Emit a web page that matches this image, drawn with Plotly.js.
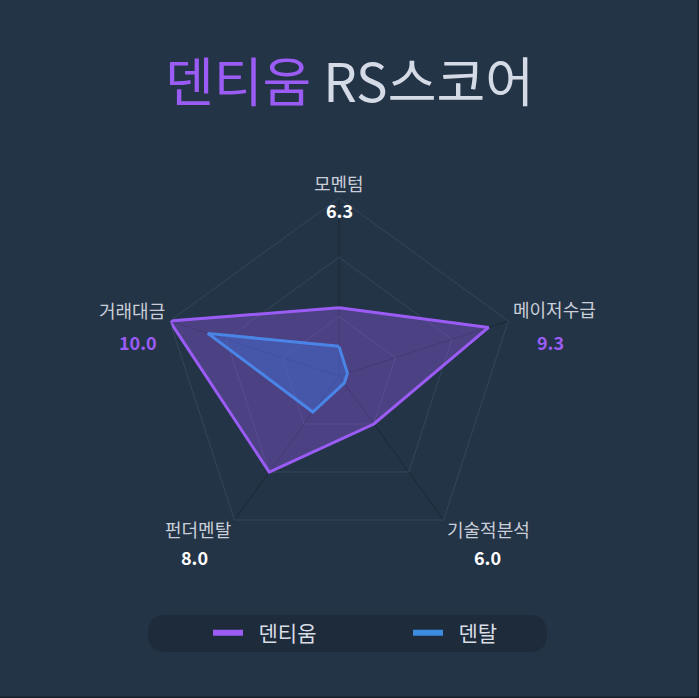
<!DOCTYPE html>
<html>
<head>
<meta charset="utf-8">
<script src="https://cdn.plot.ly/plotly-3.0.1.min.js"></script>
<style>
  html, body { margin: 0; padding: 0; background: #243447; }
  #graphDiv { width: 699px; height: 698px; }
</style>
</head>
<body>
<div id="graphDiv"></div>
<script>
// categories, clockwise from the top
var categories = ["모멘텀", "메이저수급", "기술적분석", "펀더멘탈", "거래대금"];
var dentiumScores = [6.3, 9.3, 6.0, 8.0, 10.0];
var dentalScores = [5.0, 4.3, 4.3, 5.5, 8.65];
var valueLabels = ["6.3", "9.3", "6.0", "8.0", "10.0"];
var seriesNames = ["덴티움", "덴탈"];
var seriesColors = ['#9b5cf6', '#3d8be0'];

var W = 699, H = 698;
var cx = 339, cy = 376, R = 178;
var korFont = "Noto Sans CJK KR, Noto Sans, sans-serif";

function closeLoop(arr) {
    return arr.concat([arr[0]]);
}

var trace1 = {
    type: 'scatterpolar',
    r: closeLoop(dentiumScores),
    theta: closeLoop(categories),
    name: seriesNames[0],
    mode: 'lines',
    fill: 'toself',
    fillcolor: 'rgba(155,92,246,0.34)',
    line: {color: '#9b5cf6', width: 3},
    showlegend: false,
    hoverinfo: 'skip'
};
var trace2 = {
    type: 'scatterpolar',
    r: closeLoop(dentalScores),
    theta: closeLoop(categories),
    name: seriesNames[1],
    mode: 'lines',
    fill: 'toself',
    fillcolor: 'rgba(59,130,246,0.33)',
    line: {color: '#4a84e6', width: 3},
    showlegend: false,
    hoverinfo: 'skip'
};

// legend-only traces so the swatch is a plain thick line
var legendTraces = seriesNames.map(function (nm, k) {
    return {
        type: 'scatterpolar',
        r: [null], theta: [categories[0]],
        name: '\u2002' + nm,
        mode: 'lines',
        line: {color: seriesColors[k], width: 6},
        hoverinfo: 'skip'
    };
});

// label positions around the chart (pixels)
var labelPos = [
    [339, 183, 339, 210],
    [554, 309, 550, 342],
    [488, 529, 487, 557],
    [198, 529, 194, 557],
    [132, 310, 138, 342]
];
var valueColors = ['#ffffff', '#9b5cf6', '#ffffff', '#ffffff', '#9b5cf6'];

var annotations = [];
for (var i = 0; i < categories.length; i++) {
    var p = labelPos[i];
    annotations.push({
        xref: 'paper', yref: 'paper',
        x: p[0] / W, y: 1 - p[1] / H,
        text: categories[i], showarrow: false,
        xanchor: 'center', yanchor: 'middle',
        font: {family: korFont, size: 18, color: '#c9ced8'}
    });
    annotations.push({
        xref: 'paper', yref: 'paper',
        x: p[2] / W, y: 1 - p[3] / H,
        text: '<b>' + valueLabels[i] + '</b>', showarrow: false,
        xanchor: 'center', yanchor: 'middle',
        font: {family: korFont, size: 18, color: valueColors[i]}
    });
}

// legend box with rounded ends
function roundedRect(x0, y0, x1, y1, rad) {
    var px = function (v) { return (v / W).toFixed(5); };
    var py = function (v) { return (1 - v / H).toFixed(5); };
    return 'M' + px(x0 + rad) + ',' + py(y0) +
        ' L' + px(x1 - rad) + ',' + py(y0) +
        ' Q' + px(x1) + ',' + py(y0) + ' ' + px(x1) + ',' + py(y0 + rad) +
        ' L' + px(x1) + ',' + py(y1 - rad) +
        ' Q' + px(x1) + ',' + py(y1) + ' ' + px(x1 - rad) + ',' + py(y1) +
        ' L' + px(x0 + rad) + ',' + py(y1) +
        ' Q' + px(x0) + ',' + py(y1) + ' ' + px(x0) + ',' + py(y1 - rad) +
        ' L' + px(x0) + ',' + py(y0 + rad) +
        ' Q' + px(x0) + ',' + py(y0) + ' ' + px(x0 + rad) + ',' + py(y0) + ' Z';
}

var layout = {
    width: W,
    height: H,
    margin: {l: 0, r: 0, t: 0, b: 0},
    paper_bgcolor: '#243447',
    plot_bgcolor: '#243447',
    showlegend: true,
    title: {
        text: '<span style="color:#9b5cf6">덴티움</span> RS스코어',
        font: {family: korFont, size: 53, color: '#d5dbe6'},
        x: 0.5, xanchor: 'center',
        y: 1 - 83 / H, yanchor: 'middle'
    },
    polar: {
        domain: {
            x: [(cx - R) / W, (cx + R) / W],
            y: [1 - (cy + R) / H, 1 - (cy - R) / H]
        },
        bgcolor: 'rgba(0,0,0,0)',
        gridshape: 'linear',
        radialaxis: {
            range: [4, 10],
            dtick: 2,
            showticklabels: false,
            ticks: '',
            showline: false,
            gridcolor: '#33465b',
            gridwidth: 1
        },
        angularaxis: {
            direction: 'clockwise',
            rotation: 90,
            showticklabels: false,
            ticks: '',
            gridcolor: '#1b2737',
            gridwidth: 1,
            linecolor: '#33465b',
            linewidth: 1
        }
    },
    legend: {
        orientation: 'h',
        x: 208 / W, xanchor: 'left',
        y: 1 - 633 / H, yanchor: 'middle',
        bgcolor: 'rgba(0,0,0,0)',
        font: {family: korFont, size: 21, color: '#d8dde6'},
        itemwidth: 30,
        entrywidth: 155
    },
    shapes: [
        {
            type: 'path', xref: 'paper', yref: 'paper', layer: 'below',
            path: roundedRect(148, 615, 547, 652, 18),
            fillcolor: '#1e2b3b', line: {width: 0}
        },
        {
            type: 'line', xref: 'paper', yref: 'paper',
            x0: 1 - 0.5 / W, x1: 1 - 0.5 / W, y0: 0, y1: 1,
            line: {color: '#17212e', width: 2}
        },
        {
            type: 'line', xref: 'paper', yref: 'paper',
            x0: 0, x1: 1, y0: 0.5 / H, y1: 0.5 / H,
            line: {color: '#17212e', width: 2}
        }
    ],
    annotations: annotations
};

Plotly.newPlot('graphDiv', [trace1, trace2].concat(legendTraces), layout, {displayModeBar: false, staticPlot: true});
</script>
</body>
</html>
